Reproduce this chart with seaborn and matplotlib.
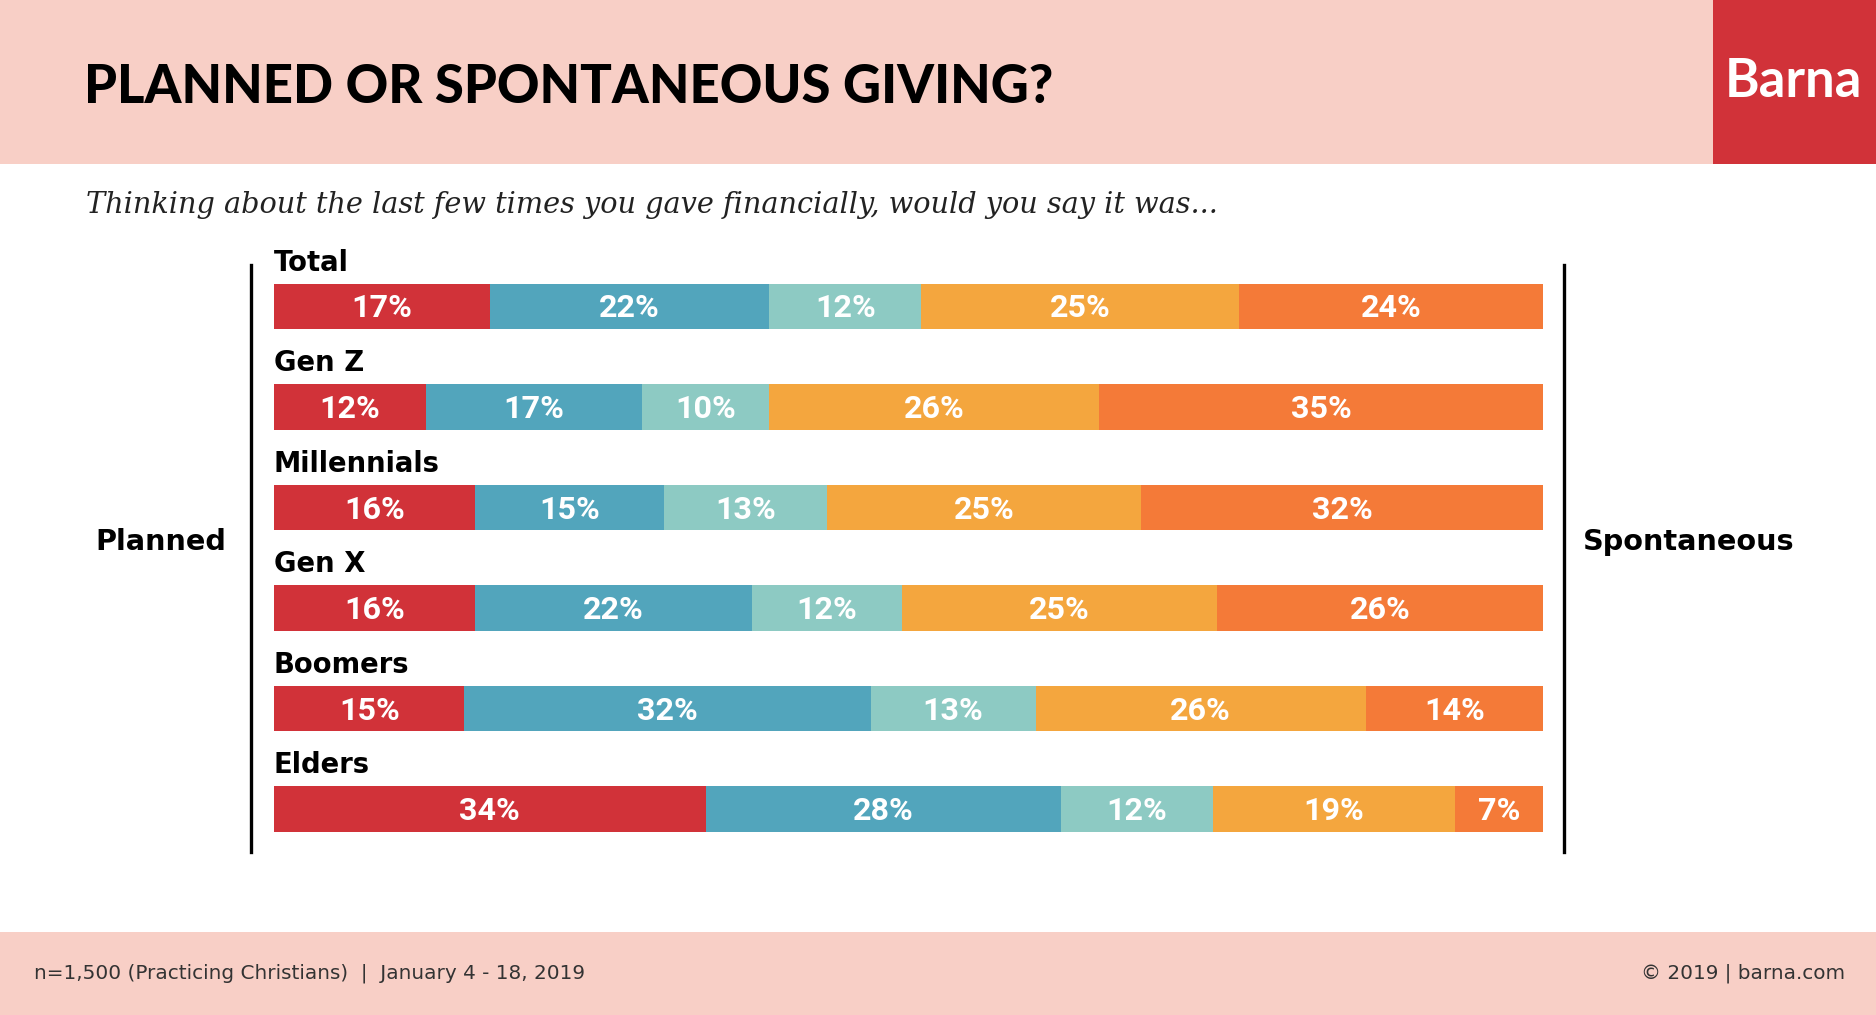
import numpy as np
import pandas as pd
import matplotlib.pyplot as plt
import seaborn as sns
from matplotlib.patches import Rectangle

# values (percent per group, left = planned, right = spontaneous)
groups = ["Total", "Gen Z", "Millennials", "Gen X", "Boomers", "Elders"]
seg_always_planned = [17, 12, 16, 16, 15, 34]
seg_mostly_planned = [22, 17, 15, 22, 32, 28]
seg_both = [12, 10, 13, 12, 13, 12]
seg_mostly_spont = [25, 26, 25, 25, 26, 19]
seg_always_spont = [24, 35, 32, 26, 14, 7]
colors = ["#D13239", "#52A5BC", "#8DCAC3", "#F4A63E", "#F47A38"]

W, H = 1568, 848          # reference layout units
S = 1876 / W              # scale to output pixels


def fx(x):
    return x / W


def fy(y):
    return 1 - y / H


def pt(px):
    # size in layout px -> points on output figure (dpi 100)
    return px * S * 0.72


sns.set_theme(style="white")
plt.rcParams["font.family"] = ["Lato", "DejaVu Sans"]

fig = plt.figure(figsize=(18.76, 10.15), dpi=100)
fig.patch.set_facecolor("white")

# header / footer bands
fig.add_artist(Rectangle((0, fy(137)), 1, 137 / H, transform=fig.transFigure,
                         facecolor="#F8CFC6", edgecolor="none", zorder=0))
fig.add_artist(Rectangle((fx(1432), fy(137)), 136 / W, 137 / H, transform=fig.transFigure,
                         facecolor="#D13239", edgecolor="none", zorder=1))
fig.add_artist(Rectangle((0, 0), 1, (H - 779) / H, transform=fig.transFigure,
                         facecolor="#F8CFC6", edgecolor="none", zorder=0))

fig.text(fx(70), fy(73), "PLANNED OR SPONTANEOUS GIVING?", fontsize=pt(44),
         fontweight="black", color="black", va="center", ha="left")
fig.text(fx(1499), fy(68), "Barna", fontsize=pt(44), fontweight="bold",
         color="white", va="center", ha="center")
fig.text(fx(72), fy(171), "Thinking about the last few times you gave financially, would you say it was...",
         fontsize=pt(24), style="italic", family="DejaVu Serif", color="#222222",
         va="center", ha="left")
fig.text(fx(28), fy(813), "n=1,500 (Practicing Christians)  |  January 4 - 18, 2019",
         fontsize=pt(16.7), color="#333333", va="center", ha="left", family="DejaVu Sans")
fig.text(fx(1542), fy(813), "\u00a9 2019 | barna.com", fontsize=pt(16.7), color="#333333",
         va="center", ha="right", family="DejaVu Sans")
fig.text(fx(80), fy(453), "Planned", fontsize=pt(24), color="black", va="center",
         ha="left", fontweight="bold", family="DejaVu Sans")
fig.text(fx(1323), fy(453), "Spontaneous", fontsize=pt(24), color="black", va="center",
         ha="left", fontweight="bold", family="DejaVu Sans")

# bar axes: spans the two vertical rules
ax = fig.add_axes([fx(210), fy(712), (1307 - 210) / W, (712 - 221) / H])

vals = np.array([seg_always_planned, seg_mostly_planned, seg_both,
                 seg_mostly_spont, seg_always_spont], dtype=float).T
shares = vals / vals.sum(axis=1, keepdims=True)
cum = shares.cumsum(axis=1)

df = pd.DataFrame(cum, columns=[f"c{k}" for k in range(5)])
df["group"] = groups

bar_h = 38 / 84
for k in range(4, -1, -1):
    sns.barplot(data=df, x=f"c{k}", y="group", color=colors[k], orient="h",
                width=bar_h, saturation=1, linewidth=0, ax=ax)

for i, g in enumerate(groups):
    left = 0
    for k in range(5):
        c = left + shares[i, k] / 2
        ax.text(c, i + 0.02, f"{int(vals[i, k])}%", ha="center", va="center",
                color="white", fontsize=pt(27), fontweight="bold", family="Roboto")
        left += shares[i, k]
    ax.text(0, i - bar_h / 2 - 0.07, g, ha="left", va="bottom", fontsize=pt(23),
            fontweight="bold", color="black", family="DejaVu Sans")

x0 = -19 / 1061
x1 = 1 + 17 / 1061
ax.set_xlim(x0, x1)
ax.set_ylim(5 + 36 / 84, -35 / 84)
ax.set(xlabel=None, ylabel=None, xticks=[], yticks=[])
ax.set_facecolor("none")
for side in ["top", "bottom"]:
    ax.spines[side].set_visible(False)
for side in ["left", "right"]:
    ax.spines[side].set_visible(True)
    ax.spines[side].set_color("black")
    ax.spines[side].set_linewidth(2.4)

fig.savefig("out.png", dpi=100)
